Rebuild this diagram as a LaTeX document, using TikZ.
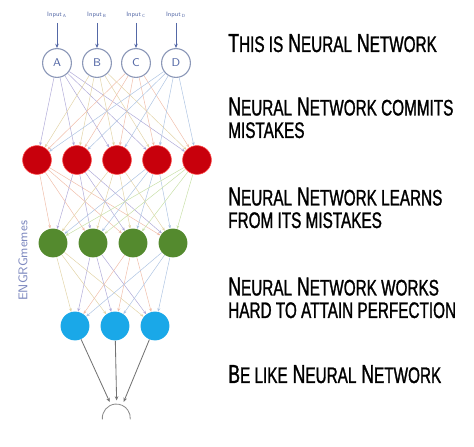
\documentclass[tikz,border=0pt]{standalone}
\usepackage{fontspec}
\usetikzlibrary{arrows.meta}

\newfontfamily\memefont[FakeStretch=0.68, FakeBold=1.2]{Liberation Sans}
\newcommand\lc[1]{{\fontsize{16}{18}\selectfont\uppercase{#1}}}

\definecolor{inkblue}{HTML}{5468A6}
\definecolor{ringgray}{HTML}{8C98B8}
\definecolor{redcell}{HTML}{C8000C}
\definecolor{greencell}{HTML}{548A2E}
\definecolor{bluecell}{HTML}{1AA8E8}
\definecolor{linkA}{HTML}{B0AAD8}
\definecolor{linkB}{HTML}{E2D4A8}
\definecolor{linkC}{HTML}{F0BEAA}
\definecolor{linkD}{HTML}{AEC4E2}
\definecolor{linkE}{HTML}{C8E0A8}

\tikzset{
  neuron/.style={circle, minimum size=0.72cm, inner sep=0pt},
  inputcell/.style={neuron, draw=ringgray, thick, fill=white, text=inkblue,
    font=\sffamily\fontsize{8}{8}\selectfont},
  redneuron/.style={neuron, fill=redcell, draw=red!70!white},
  greenneuron/.style={neuron, fill=greencell},
  blueneuron/.style={neuron, fill=bluecell},
  link/.style={line width=0.35pt, -{Stealth[length=2.5pt,width=2pt]}},
  feed/.style={inkblue, line width=0.6pt, -{Stealth[length=3pt,width=2.5pt]}},
  outlink/.style={black!55, line width=0.6pt, -{Stealth[length=3pt,width=2.5pt]}, shorten >=2pt},
  meme/.style={anchor=base west, inner sep=0pt, align=left,
    font=\memefont\fontsize{18.5}{18}\selectfont}
}

\begin{document}
\begin{tikzpicture}[x=0.025cm, y=0.025cm]
    \useasboundingbox (0,0) rectangle (474,447);

    % inputs
    \foreach \l/\x in {A/57, B/97, C/136, D/176} {
      \node[inputcell] (i\l) at (\x,384) {\l};
      \node[inkblue, font=\sffamily\fontsize{4.5}{5}\selectfont] (t\l) at (\x,432) {Input\,\textsubscript{\l}};
      \draw[feed] (t\l) -- (i\l);
    }

    % hidden layers
    \foreach \n/\x in {1/37, 2/77, 3/117, 4/157, 5/197}
      \node[redneuron] (r\n) at (\x,287) {};
    \foreach \n/\x in {1/53, 2/93, 3/133, 4/173}
      \node[greenneuron] (g\n) at (\x,204) {};
    \foreach \n/\x in {1/75, 2/115, 3/155}
      \node[blueneuron] (b\n) at (\x,121) {};

    % output
    \node[neuron] (out) at (117,29) {};
    \draw[black!45, line width=0.6pt] (out.185) arc[start angle=185, end angle=-5, radius=0.35cm];

    % connections
    \foreach \s/\c in {A/linkA, B/linkB, C/linkC, D/linkD}
      \foreach \t in {1,...,5}
        \draw[link, \c] (i\s) -- (r\t);
    \foreach \s/\c in {1/linkC, 2/linkA, 3/linkB, 4/linkD, 5/linkE}
      \foreach \t in {1,...,4}
        \draw[link, \c] (r\s) -- (g\t);
    \foreach \s/\c in {1/linkB, 2/linkA, 3/linkC, 4/linkD}
      \foreach \t in {1,...,3}
        \draw[link, \c] (g\s) -- (b\t);
    \foreach \s in {1,2,3}
      \draw[outlink] (b\s) -- (out);

    % watermark
    \node[rotate=90, text=ringgray!90!blue, font=\sffamily\fontsize{9}{9}\selectfont] (mark) at (23,186) {ENGRGmemes};

    % captions
    \node[meme] (m1) at (228,395) {T\lc{his is} N\lc{eural} N\lc{etwork}};
    \node[meme] (m2) at (228,309) {N\lc{eural} N\lc{etwork commits}\\[-2pt]\lc{mistakes}};
    \node[meme] (m3) at (228,219) {N\lc{eural} N\lc{etwork learns}\\[-2pt]\lc{from its mistakes}};
    \node[meme] (m4) at (228,129) {N\lc{eural} N\lc{etwork works}\\[-2pt]\lc{hard to attain perfection}};
    \node[meme] (m5) at (228,64) {B\lc{e like} N\lc{eural} N\lc{etwork}};
\end{tikzpicture}
\end{document}
